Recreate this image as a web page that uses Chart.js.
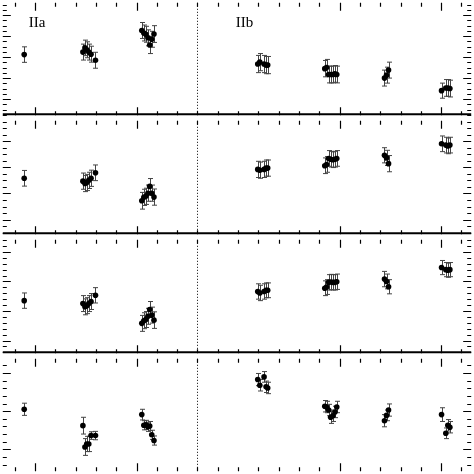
<!doctype html>
<html lang="en">
<head>
  <meta charset="utf-8">
  <title>IIa / IIb panels</title>
  <script src="https://cdn.jsdelivr.net/npm/chart.js@4.4.1/dist/chart.umd.min.js"></script>
  <style>
    html, body { margin: 0; padding: 0; background: #fff; }
    #wrap { position: relative; width: 474px; height: 474px; overflow: hidden; }
    #wrap canvas { position: absolute; left: 0; }
  </style>
  <script>
    // x positions shared by all four panels (same observations)
    const xVals = [-0.53,
      2.36, 2.46, 2.55, 2.65, 2.76, 2.98,
      5.26, 5.36, 5.46, 5.56, 5.65, 5.75, 5.86,
      10.97, 11.07, 11.28, 11.38, 11.46,
      14.27, 14.36, 14.46, 14.56, 14.67, 14.77, 14.86,
      17.21, 17.31, 17.41,
      20.02, 20.23, 20.33, 20.43];

    // panel 1
    const y1 = [2.12,
      2.24, 2.44, 2.35, 2.24, 2.14, 1.85,
      3.27, 3.15, 3.09, 2.92, 2.58, 2.85, 3.10,
      1.67, 1.76, 1.67, 1.62, 1.62,
      1.45, 1.50, 1.17, 1.17, 1.17, 1.20, 1.17,
      1.00, 1.14, 1.38,
      0.40, 0.53, 0.53, 0.50];
    const e1 = [0.37,
      0.38, 0.37, 0.38, 0.38, 0.38, 0.38,
      0.38, 0.38, 0.38, 0.38, 0.41, 0.38, 0.40,
      0.41, 0.41, 0.41, 0.41, 0.41,
      0.39, 0.39, 0.40, 0.40, 0.40, 0.40, 0.40,
      0.38, 0.38, 0.38,
      0.36, 0.40, 0.40, 0.40];

    // panel 2
    const y2 = [1.58,
      1.47, 1.38, 1.42, 1.50, 1.58, 1.79,
      0.72, 0.85, 0.89, 1.01, 1.27, 1.01, 0.86,
      1.92, 1.89, 1.92, 1.97, 1.97,
      2.06, 2.11, 2.34, 2.31, 2.29, 2.31, 2.34,
      2.46, 2.36, 2.14,
      2.90, 2.85, 2.82, 2.85];
    const e2 = [0.30,
      0.31, 0.31, 0.31, 0.31, 0.31, 0.30,
      0.32, 0.31, 0.31, 0.31, 0.30, 0.31, 0.31,
      0.31, 0.31, 0.31, 0.31, 0.31,
      0.30, 0.30, 0.30, 0.30, 0.30, 0.30, 0.30,
      0.29, 0.29, 0.31,
      0.30, 0.30, 0.30, 0.30];

    // panel 3
    const y3 = [1.35,
      1.25, 1.14, 1.18, 1.25, 1.32, 1.53,
      0.58, 0.67, 0.71, 0.82, 1.05, 0.86, 0.69,
      1.66, 1.61, 1.66, 1.70, 1.70,
      1.77, 1.81, 1.97, 1.98, 1.97, 1.97, 1.99,
      2.08, 2.00, 1.82,
      2.47, 2.40, 2.38, 2.40];
    const e3 = [0.26,
      0.27, 0.27, 0.27, 0.27, 0.27, 0.26,
      0.27, 0.27, 0.27, 0.27, 0.27, 0.27, 0.28,
      0.26, 0.26, 0.26, 0.25, 0.25,
      0.25, 0.25, 0.26, 0.26, 0.26, 0.26, 0.26,
      0.26, 0.25, 0.24,
      0.24, 0.24, 0.24, 0.24];

    // panel 4
    const y4 = [1.05,
      0.62, 0.06, 0.14, 0.14, 0.36, 0.36,
      0.91, 0.63, 0.64, 0.59, 0.61, 0.38, 0.23,
      1.83, 1.68, 1.90, 1.64, 1.61,
      1.13, 1.11, 1.03, 0.84, 0.88, 0.98, 1.11,
      0.75, 0.89, 1.03,
      0.91, 0.42, 0.63, 0.58];
    const e4 = [0.16,
      0.22, 0.22, 0.20, 0.20, 0.10, 0.11,
      0.14, 0.12, 0.12, 0.12, 0.12, 0.12, 0.12,
      0.16, 0.15, 0.14, 0.15, 0.15,
      0.15, 0.15, 0.15, 0.16, 0.15, 0.15, 0.15,
      0.16, 0.14, 0.16,
      0.18, 0.14, 0.15, 0.15];

    const xMinorTicks = [-1, 0, 1, 2, 3, 4, 5, 6, 7, 8, 9, 10, 11, 12, 13, 14, 15, 16, 17, 18, 19, 20, 21];
    const xMajorTicks = [0, 5, 15, 20];
    const xDivider = 8;

    // y ranges and tick steps for each panel
    const panelY = [y1, y2, y3, y4];
    const panelErr = [e1, e2, e3, e4];
    const panelMin = [-0.77, -0.56, -0.43, -0.575];
    const panelMax = [4.59, 3.78, 3.41, 2.375];
    const panelMajor = [[0, 1, 2, 3, 4], [0, 1, 2, 3], [0, 1, 2, 3], [-0.5, 0, 1, 2]];
    const panelMinorStep = [0.25, 0.25, 0.2, 0.2];
    const panelTop = [0, 118, 237, 356];
    const panelHeight = [118, 119, 119, 118];

    // error bars under the points
    const errorBars = {
      id: 'errorBars',
      beforeDatasetsDraw(chart) {
        const ctx = chart.ctx;
        const ys = chart.scales.y;
        const errs = chart.options.plugins.errorBars.errs;
        const meta = chart.getDatasetMeta(0);
        const ds = chart.data.datasets[0].data;
        ctx.save();
        ctx.strokeStyle = '#444';
        ctx.lineWidth = 1;
        meta.data.forEach((pt, i) => {
          const x = Math.round(pt.x) + 0.5;
          const top = ys.getPixelForValue(ds[i].y + errs[i]);
          const bot = ys.getPixelForValue(ds[i].y - errs[i]);
          ctx.beginPath();
          ctx.moveTo(x, top); ctx.lineTo(x, bot);
          ctx.moveTo(x - 2.5, top); ctx.lineTo(x + 2.5, top);
          ctx.moveTo(x - 2.5, bot); ctx.lineTo(x + 2.5, bot);
          ctx.stroke();
        });
        ctx.restore();
      }
    };

    // inward ticks, panel borders, dotted divider, labels
    const frame = {
      id: 'frame',
      afterDraw(chart) {
        const o = chart.options.plugins.frame;
        const ctx = chart.ctx;
        const a = chart.chartArea;
        const xs = chart.scales.x, ys = chart.scales.y;
        ctx.save();
        ctx.strokeStyle = '#000';

        // dotted divider
        const xd = Math.round(xs.getPixelForValue(xDivider)) + 0.5;
        ctx.lineWidth = 1;
        ctx.setLineDash([1, 2]);
        ctx.beginPath();
        ctx.moveTo(xd, a.top); ctx.lineTo(xd, a.bottom);
        ctx.stroke();
        ctx.setLineDash([]);

        // x ticks, top and bottom
        ctx.lineWidth = 1.2;
        ctx.beginPath();
        xMinorTicks.forEach(v => {
          const len = xMajorTicks.includes(v) ? 8 : 4;
          const px = Math.round(xs.getPixelForValue(v)) + 0.5;
          ctx.moveTo(px, a.top); ctx.lineTo(px, a.top + len);
          ctx.moveTo(px, a.bottom); ctx.lineTo(px, a.bottom - len);
        });
        // y ticks, left and right
        const majors = o.majors;
        const step = o.minorStep;
        for (let v = Math.ceil(o.min / step) * step; v <= o.max; v += step) {
          const isMajor = majors.some(m => Math.abs(m - v) < 1e-6);
          const len = isMajor ? 8 : 4;
          const py = Math.round(ys.getPixelForValue(v)) + 0.5;
          ctx.moveTo(a.left, py); ctx.lineTo(a.left + len, py);
          ctx.moveTo(a.right, py); ctx.lineTo(a.right - len, py);
        }
        ctx.stroke();

        // one border line between panels (outer frame lies just outside the picture)
        if (o.bottomLine) {
          ctx.lineWidth = 2;
          ctx.beginPath();
          ctx.moveTo(a.left, a.bottom - 1); ctx.lineTo(a.right, a.bottom - 1);
          ctx.stroke();
        }

        if (o.labels) {
          ctx.fillStyle = '#000';
          ctx.font = '15px "Liberation Serif", serif';
          ctx.textBaseline = 'alphabetic';
          ctx.fillText('IIa', a.left + 26, a.top + 24);
          ctx.fillText('IIb', a.left + 233, a.top + 24);
        }
        ctx.restore();
      }
    };

    function makePanel(i) {
      const canvas = document.createElement('canvas');
      canvas.width = 474;
      canvas.height = panelHeight[i];
      canvas.style.top = panelTop[i] + 'px';
      document.getElementById('wrap').appendChild(canvas);
      new Chart(canvas.getContext('2d'), {
        type: 'scatter',
        data: {
          datasets: [{
            data: xVals.map((x, k) => ({ x: x, y: panelY[i][k] })),
            backgroundColor: '#000',
            borderColor: '#000',
            borderWidth: 0,
            pointRadius: 2.8,
            pointHoverRadius: 2.8,
            clip: false
          }]
        },
        options: {
          responsive: false,
          animation: false,
          events: [],
          layout: { padding: 0 },
          scales: {
            x: { type: 'linear', min: -1.584, max: 21.48, display: false },
            y: { type: 'linear', min: panelMin[i], max: panelMax[i], display: false }
          },
          plugins: {
            legend: { display: false },
            tooltip: { enabled: false },
            errorBars: { errs: panelErr[i] },
            frame: {
              min: panelMin[i], max: panelMax[i],
              majors: panelMajor[i], minorStep: panelMinorStep[i],
              bottomLine: i < 3, labels: i === 0
            }
          }
        },
        plugins: [errorBars, frame]
      });
    }

    window.addEventListener('load', function () {
      for (let i = 0; i < 4; i++) makePanel(i);
    });
  </script>
</head>
<body>
  <div id="wrap"></div>
</body>
</html>
